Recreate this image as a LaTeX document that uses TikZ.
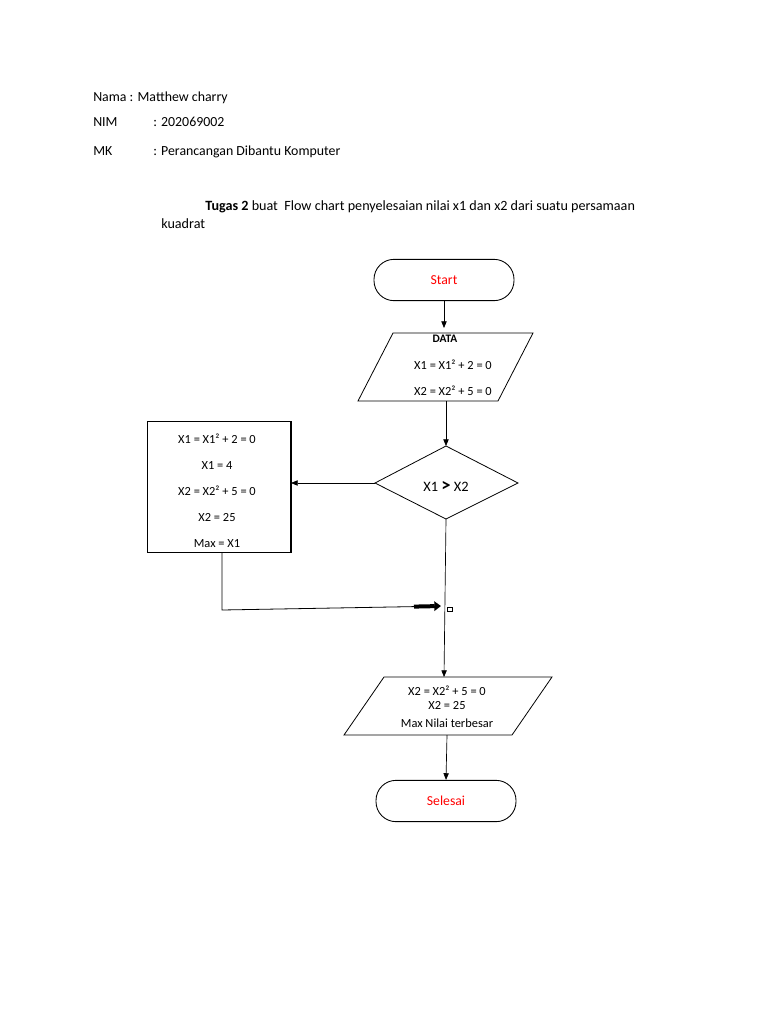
\documentclass[tikz,border=0pt]{standalone}
\usepackage{fontspec}
\setmainfont{Carlito}
\usetikzlibrary{arrows.meta}
\begin{document}
\begin{tikzpicture}[x=0.75pt,y=-0.75pt,
  hdr/.style={anchor=base west,inner sep=0pt,font=\fontsize{10.4}{12}\selectfont},
  small/.style={inner sep=0pt,font=\fontsize{9.3}{11}\selectfont},
  term/.style={draw,rounded corners=15pt,minimum width=105pt,minimum height=31pt,font=\fontsize{10.3}{12}\selectfont,text=red,line width=0.65pt},
  arr/.style={-{Triangle[length=5pt,width=4pt]},line width=0.5pt},
  ln/.style={line width=0.6pt}]
\useasboundingbox (0,0) rectangle (768,1024);
\fill[white] (0,0) rectangle (768,1024);
% header
\node[hdr] (nama) at (93,101) {Nama : Matthew charry};
\node[hdr] (nim) at (93,127) {NIM};
\node[hdr] (nimv) at (153,127) {: 202069002};
\node[hdr] (mk) at (93,155) {MK};
\node[hdr] (mkv) at (153,155) {: Perancangan Dibantu Komputer};
\node[hdr,font=\fontsize{10.6}{12}\selectfont] (tugas) at (205,210) {\textbf{Tugas 2} buat\ \ Flow chart penyelesaian nilai x1 dan x2 dari suatu persamaan};
\node[hdr,font=\fontsize{10.6}{12}\selectfont] (kuad) at (161,228) {kuadrat};
% start
\node[term] (start) at (444,280) {Start};
% data parallelogram
\draw[ln] (393,333) -- (533,333) -- (498,401) -- (358,401) -- cycle;
\coordinate (datatop) at (444,333);
\coordinate (databot) at (446,401);
\node[small,font=\bfseries\fontsize{8.6}{10}\selectfont] (dlabel) at (445,339) {DATA};
\node[small] (d1) at (453,365) {X1 = X1² + 2 = 0};
\node[small] (d2) at (453,391) {X2 = X2² + 5 = 0};
% decision diamond
\coordinate (dtop) at (446,446);
\coordinate (dleft) at (375,483);
\coordinate (dright) at (518,483);
\coordinate (dbot) at (446,519);
\draw[ln] (dtop) -- (dright) -- (dbot) -- (dleft) -- cycle;
\node[inner sep=0pt,font=\fontsize{10.8}{12}\selectfont] (cond) at (446,486) {X1 {\fontsize{14}{14}\selectfont\textbf{>}} X2};
% left box
\draw[ln] (147,421) rectangle (291,552);
\draw[line width=1.1pt] (290.5,421) -- (290.5,552.5) -- (147,552.5);
\coordinate (boxright) at (291,483);
\coordinate (boxbot) at (222,552);
\node[small] (b1) at (217,439) {X1 = X1² + 2 = 0};
\node[small] (b2) at (217,466) {X1 = 4};
\node[small] (b3) at (217,491) {X2 = X2² + 5 = 0};
\node[small] (b4) at (217,518) {X2 = 25};
\node[small] (b5) at (217,544) {Max = X1};
% output parallelogram
\draw[ln] (384,677) -- (552,677) -- (512,735) -- (344,735) -- cycle;
\coordinate (outtop) at (444,677);
\coordinate (outbot) at (447,735);
\node[small] (o1) at (447,691) {X2 = X2² + 5 = 0};
\node[small] (o2) at (447,706) {X2 = 25};
\node[small] (o3) at (447,723) {Max Nilai terbesar};
% end
\node[term] (end) at (446,801) {Selesai};
% connectors
\draw[arr] (start.south) -- (444,328);
\draw[arr] (databot) -- (dtop);
\draw[arr] (dleft) -- (boxright);
\draw[arr] (dbot) -- (outtop);
\draw[arr] (outbot) -- (end.north);
\coordinate (corner) at (222,610);
\coordinate (junc) at (441,606);
\coordinate (thick) at (414,606.6);
\draw[ln] (boxbot) -- (corner) -- (thick);
\draw[line width=3pt,-{Triangle[length=5pt,width=7pt]}] (thick) -- (junc);
\draw[line width=0.5pt] (447,607) rectangle (452,611);
\end{tikzpicture}
\end{document}
